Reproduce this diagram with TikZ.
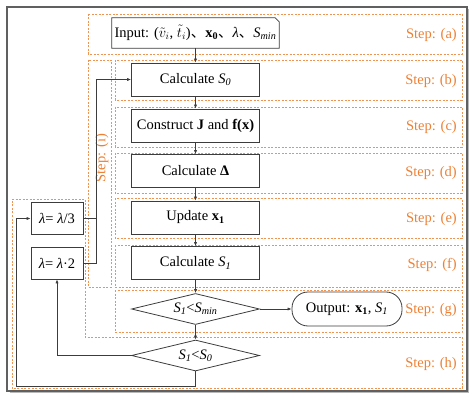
\documentclass[tikz,border=0pt]{standalone}
\usepackage{fontspec}
\setmainfont{Liberation Serif}
\newfontfamily\cjk{Noto Sans CJK SC}
\usetikzlibrary{arrows.meta,shapes.geometric}
\definecolor{stepor}{RGB}{237,128,52}
\definecolor{ln}{RGB}{60,60,60}
\newcommand{\Sv}[1]{\textit{S}\textsubscript{\textit{#1}}}
\newcommand{\xb}[1]{\textbf{x}\textsubscript{\textbf{#1}}}
\begin{document}
\begin{tikzpicture}[x=1pt,y=-1pt,
  font=\fontsize{14.5}{17}\selectfont,
  box/.style={draw=ln, line width=0.8pt, minimum width=128pt, minimum height=33pt, inner sep=0pt},
  lbox/.style={draw=ln, line width=0.8pt, minimum width=52pt, minimum height=32pt, inner sep=0pt},
  dia/.style={draw=ln, line width=0.8pt, diamond, aspect=4, minimum width=128pt, minimum height=31pt, inner sep=0pt},
  stepbox/.style={draw=stepor!85, dash pattern=on 2pt off 1.5pt, line width=0.6pt},
  steplbl/.style={text=stepor, anchor=east, inner sep=0pt},
  conn/.style={draw=ln, line width=0.7pt, -{Latex[length=4pt,width=3.2pt]}},
  plain/.style={draw=ln, line width=0.7pt}]
\useasboundingbox (0,0) rectangle (474,401);
% outer frame
\draw[gray!55, line width=1.6pt] (9.5,392.5) -- (468.5,392.5) -- (468.5,9.5);
\draw[gray!75!black, line width=1.1pt] (7,7) rectangle (467,391);
% step boxes
\draw[stepbox] (88,14) rectangle (462,54);
\draw[stepbox] (115,60) rectangle (462,100);
\draw[stepbox] (115,107) rectangle (462,147);
\draw[stepbox] (115,153) rectangle (462,193);
\draw[stepbox] (115,198) rectangle (462,238);
\draw[stepbox] (115,245) rectangle (462,287);
\draw[stepbox] (115,290) rectangle (462,332);
\draw[stepbox] (12,199) -- (85,199) -- (85,337) -- (462,337) -- (462,388) -- (12,388) -- cycle;
\draw[stepbox] (88,60) rectangle (111,287);
\node[steplbl] (la) at (457,35) {Step: (a)};
\node[steplbl] (lb) at (457,81) {Step: (b)};
\node[steplbl] (lc) at (457,127) {Step: (c)};
\node[steplbl] (ld) at (457,173) {Step: (d)};
\node[steplbl] (le) at (457,219) {Step: (e)};
\node[steplbl] (lf) at (457,265) {Step: (f)};
\node[steplbl] (lg) at (457,310) {Step: (g)};
\node[steplbl] (lh) at (457,364) {Step: (h)};
\node[text=stepor, rotate=90, inner sep=0pt] (li) at (102,158) {Step: (i)};
% main nodes
\node[minimum width=167pt, minimum height=30pt, inner sep=0pt] (in) at (195.5,33)
  {Input: ($\tilde{v}_i$, $\tilde{t}_i$){\cjk 、}\xb{0}{\cjk 、}\textit{λ}{\cjk 、}\Sv{min}};
\draw[ln, line width=0.8pt] (in.south west) -- (in.north west) -- ([xshift=-4pt]in.north east)
  -- ([yshift=-4pt]in.north east) -- (in.south east) -- cycle;
\node[box] (s0) at (195.5,79.5) {Calculate \Sv{0}};
\node[box] (cj) at (195.5,125.5) {Construct \textbf{J} and \textbf{f(x)}};
\node[box] (dl) at (195.5,171) {Calculate \textbf{Δ}};
\node[box] (up) at (195.5,217.5) {Update \xb{1}};
\node[box] (s1) at (195.5,263) {Calculate \Sv{1}};
\node[dia] (d1) at (195.5,309) {\Sv{1}<\Sv{min}};
\node[dia] (d2) at (195.5,355.5) {\Sv{1}<\Sv{0}};
\node[draw=ln, line width=0.8pt, rounded corners=16pt, minimum width=110pt, minimum height=34pt, inner sep=0pt] (out) at (347,309) {Output: \xb{1}, \Sv{1}};
\node[lbox] (l3) at (57,218.5) {\textit{λ}= \textit{λ}/3};
\node[lbox] (l2) at (57,263) {\textit{λ}= \textit{λ}·2};
\coordinate (lbc) at (16,386);
\coordinate (rj) at (96,79.5);
% connectors
\draw[conn] (in.south) -- (s0.north);
\draw[conn] (s0) -- (cj);
\draw[conn] (cj) -- (dl);
\draw[conn] (dl) -- (up);
\draw[conn] (up) -- (s1);
\draw[conn] (s1) -- (d1);
\draw[conn] (d1) -- (d2);
\draw[conn] (d1.east) -- (out.west);
\draw[conn] (d2.west) -| (l2.south);
\draw[conn] (d2.south) |- (lbc) |- (l3.west);
\draw[conn] (l3.east) -| (rj) -- (s0.west);
\draw[plain] (l2.east) -| (rj);
\end{tikzpicture}
\end{document}
